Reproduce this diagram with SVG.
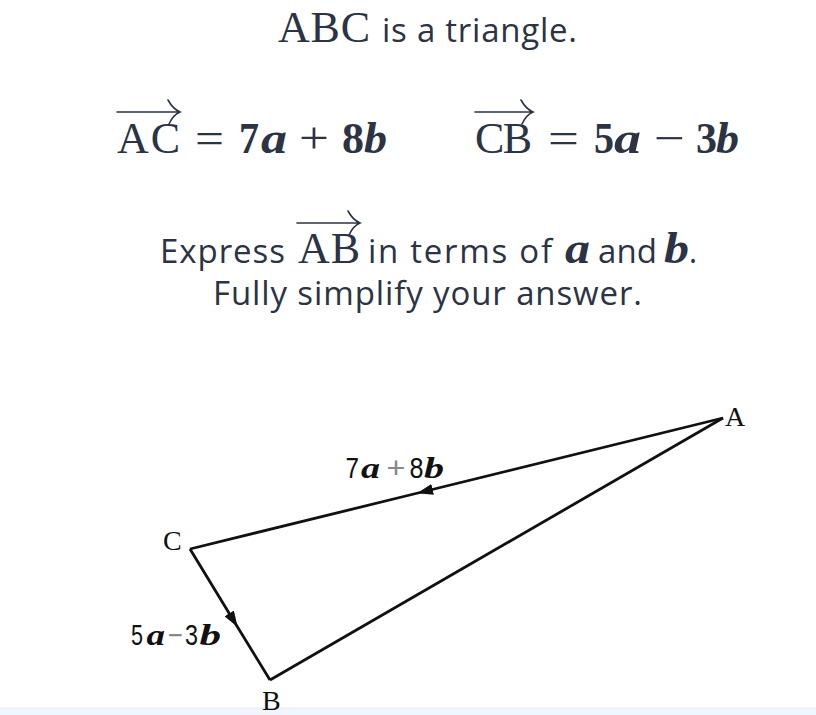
<svg xmlns="http://www.w3.org/2000/svg" width="816" height="715" viewBox="0 0 816 715">
<style>
.s{font-family:"Open Sans","Liberation Sans",sans-serif;font-size:33px;fill:#2b3344}
.m{font-family:"Liberation Serif","DejaVu Serif",serif;font-size:44px;fill:#2b3344}
.mb{font-family:"Liberation Serif","DejaVu Serif",serif;font-size:44px;font-weight:bold;fill:#2b3344}
.mbi{font-family:"Liberation Serif","DejaVu Serif",serif;font-size:44px;font-weight:bold;font-style:italic;fill:#2b3344}
.ov{fill:none;stroke:#2b3344;stroke-width:1.6;stroke-linecap:round}
.lbl{font-family:"Liberation Serif","DejaVu Serif",serif;font-size:28px;fill:#111}
.d{font-family:"Liberation Sans","DejaVu Sans",sans-serif;font-size:29px;fill:#111}
.bi{font-family:"Liberation Serif","DejaVu Serif",serif;font-size:30px;font-weight:bold;font-style:italic;fill:#111}
.op{font-family:"Liberation Sans","DejaVu Sans",sans-serif;font-size:29px;fill:#888}
.edge{fill:none;stroke:#111;stroke-width:2.8;stroke-linejoin:miter}
</style>
<defs>
<marker id="ah" viewBox="0 0 16 11" refX="13" refY="5.5" markerUnits="userSpaceOnUse" markerWidth="16" markerHeight="11" orient="auto">
<path d="M0,0 L16,5.5 L0,11 z" fill="#111"/>
</marker>
</defs>
<rect width="816" height="715" fill="#fff"/>
<rect x="0" y="708" width="816" height="7" fill="#f1f5fc"/>
<line x1="0" y1="708" x2="816" y2="708" stroke="#e4ebf6" stroke-width="1"/>

<g id="question">
<text class="m" x="278" y="42" textLength="92">ABC</text>
<text class="s" x="382" y="42" textLength="195">is a triangle.</text>

<text class="m" x="117" y="153" textLength="63">AC</text>
<path class="ov" d="M117,112 H179 M168,100 Q173,109 180,112 Q173,115 169,124"/>
<text class="m" x="195" y="153" textLength="29" lengthAdjust="spacingAndGlyphs">=</text>
<text class="mb" x="239" y="153" textLength="20" lengthAdjust="spacingAndGlyphs">7</text>
<text class="mbi" x="261" y="153" textLength="26" lengthAdjust="spacingAndGlyphs">a</text>
<text class="m" x="299" y="153" textLength="30" lengthAdjust="spacingAndGlyphs">+</text>
<text class="mb" x="342" y="153" textLength="22" lengthAdjust="spacingAndGlyphs">8</text>
<text class="mbi" x="364" y="153" textLength="23" lengthAdjust="spacingAndGlyphs">b</text>

<text class="m" x="475" y="153" textLength="57">CB</text>
<path class="ov" d="M475,112 H532 M521,100 Q526,109 533,112 Q526,115 522,124"/>
<text class="m" x="548" y="153" textLength="31" lengthAdjust="spacingAndGlyphs">=</text>
<text class="mb" x="594" y="153" textLength="20" lengthAdjust="spacingAndGlyphs">5</text>
<text class="mbi" x="614" y="153" textLength="27" lengthAdjust="spacingAndGlyphs">a</text>
<text class="m" x="654" y="153" textLength="31" lengthAdjust="spacingAndGlyphs">−</text>
<text class="mb" x="696" y="153" textLength="21" lengthAdjust="spacingAndGlyphs">3</text>
<text class="mbi" x="716" y="153" textLength="23" lengthAdjust="spacingAndGlyphs">b</text>

<text class="s" x="160" y="263" textLength="125">Express</text>
<text class="m" x="298" y="263" textLength="62">AB</text>
<path class="ov" d="M297,223 H359 M348,211 Q353,220 360,223 Q353,226 349,235"/>
<text class="s" x="368" y="263" textLength="184">in terms of</text>
<text class="mbi" x="565" y="263" textLength="25" lengthAdjust="spacingAndGlyphs">a</text>
<text class="s" x="598" y="263" textLength="59">and</text>
<text class="mbi" x="664" y="263" textLength="25" lengthAdjust="spacingAndGlyphs">b</text>
<text class="s" x="689" y="263" textLength="8" lengthAdjust="spacingAndGlyphs">.</text>

<text class="s" x="213" y="305" textLength="429">Fully simplify your answer.</text>
</g>

<g id="connectors">
<path id="edge-AC" class="edge" d="M723,418 L420,492.5 L190,549" marker-mid="url(#ah)"/>
<path id="edge-CB" class="edge" d="M190,549 L236,624.5 L270,680" marker-mid="url(#ah)"/>
<path id="edge-AB" class="edge" d="M270,680 L723,418"/>
</g>

<g id="node-A"><text class="lbl" x="725" y="426">A</text></g>
<g id="node-B"><text class="lbl" x="262" y="710">B</text></g>
<g id="node-C"><text class="lbl" x="163" y="550">C</text></g>

<g id="label-AC">
<text class="d" x="345.5" y="478" textLength="13.5" lengthAdjust="spacingAndGlyphs">7</text>
<text class="bi" x="361" y="478" textLength="19" lengthAdjust="spacingAndGlyphs">a</text>
<text class="op" x="386.5" y="478" textLength="19" lengthAdjust="spacingAndGlyphs">+</text>
<text class="d" x="409.5" y="478" textLength="14" lengthAdjust="spacingAndGlyphs">8</text>
<text class="bi" x="424" y="478" textLength="20" lengthAdjust="spacingAndGlyphs">b</text>
</g>
<g id="label-CB">
<text class="d" x="131" y="645" textLength="12" lengthAdjust="spacingAndGlyphs">5</text>
<text class="bi" x="146.5" y="645" textLength="18.5" lengthAdjust="spacingAndGlyphs">a</text>
<text class="op" x="168" y="645" textLength="15" lengthAdjust="spacingAndGlyphs">−</text>
<text class="d" x="185" y="645" textLength="13" lengthAdjust="spacingAndGlyphs">3</text>
<text class="bi" x="199.5" y="645" textLength="21.5" lengthAdjust="spacingAndGlyphs">b</text>
</g>
</svg>
